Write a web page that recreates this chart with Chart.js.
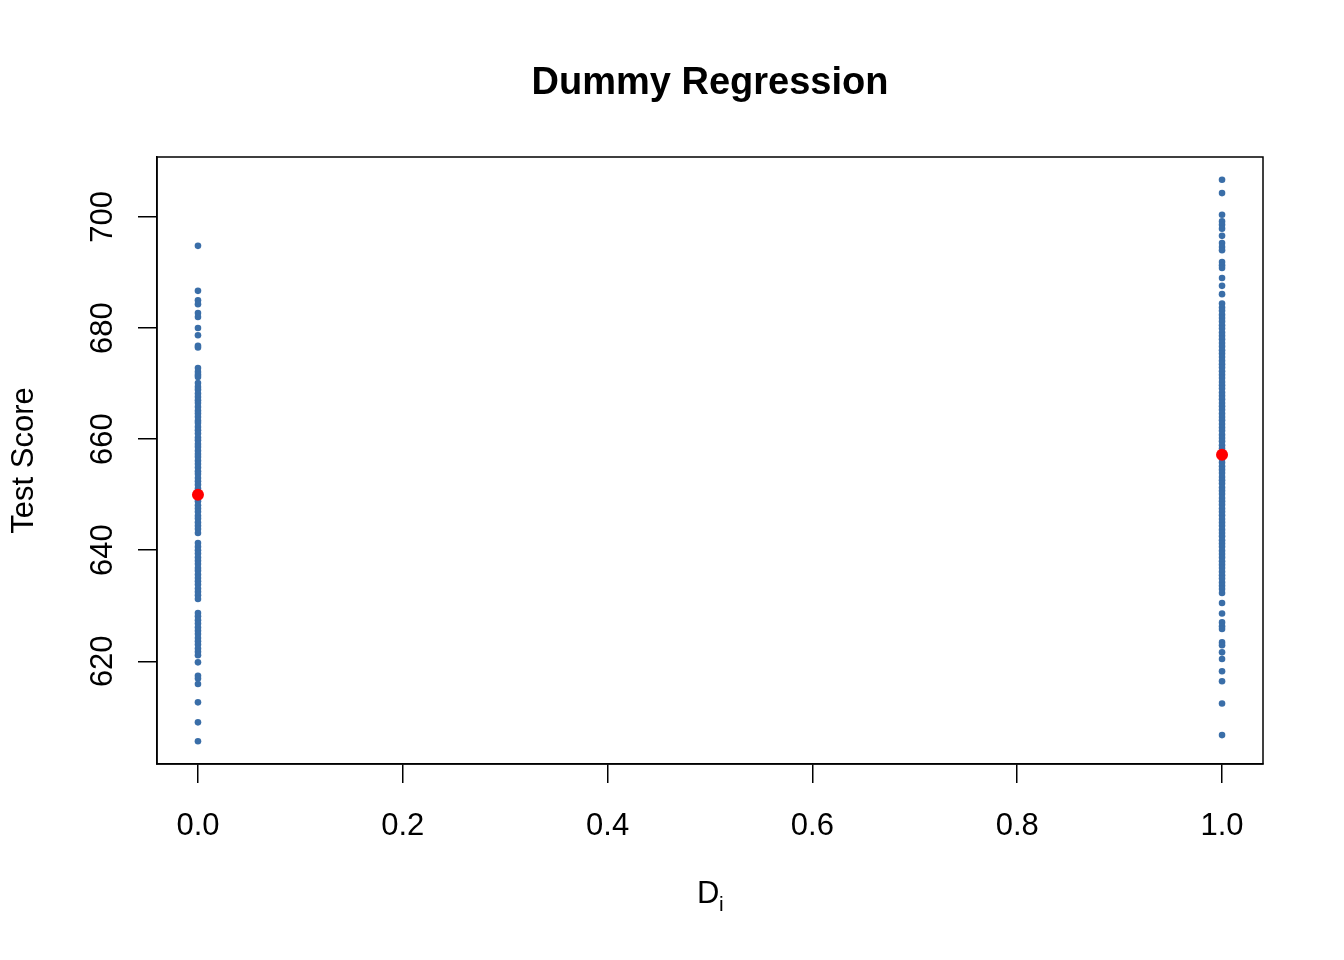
<!DOCTYPE html>
<html>
<head>
<meta charset="utf-8">
<script src="https://cdn.jsdelivr.net/npm/chart.js@4"></script>
<style>
  body { margin: 0; background: #fff; }
</style>
</head>
<body>
<canvas id="dummyChart" width="1344" height="960"></canvas>
<script>
// test scores for D = 0
const scoresD0 = [694.8, 686.7, 685.0, 684.3, 682.7, 682.0, 680.0, 678.7, 676.8, 676.5,
  672.8, 672.1, 671.6, 671.2, 670.1, 669.4, 668.9, 668.2, 667.6, 667.0, 666.5, 665.8,
  665.1, 664.6, 664.0, 663.3, 662.9, 662.2, 661.6, 661.0, 660.3, 659.8, 659.1, 658.6,
  657.9, 657.3, 656.8, 656.1, 655.5, 654.9, 654.2, 653.7, 653.0, 652.4, 651.8, 651.1,
  650.6, 650.0, 649.3, 648.8, 648.1, 647.5, 646.9, 646.2, 645.7, 645.0, 644.4, 643.8,
  643.1, 641.3, 640.6, 640.0, 639.4, 638.7, 638.1, 637.5, 636.8, 636.3, 635.6, 635.0,
  634.4, 633.8, 633.1, 632.5, 631.9, 631.2, 628.7, 628.1, 627.4, 626.8, 626.1, 625.5,
  624.9, 624.2, 623.6, 623.0, 622.3, 621.7, 621.1, 619.8, 617.4, 616.9, 615.9, 612.6,
  609.0, 605.6];

// test scores for D = 1 (right column)
const scoresD1 = [706.7, 704.3, 700.4, 699.2, 698.6, 697.9, 696.6, 695.3, 694.6, 694.0,
  691.9, 691.3, 690.8, 689.0, 687.6, 686.1, 684.4, 683.7, 683.1, 682.4, 681.8, 681.2,
  680.5, 679.9, 679.2, 678.6, 678.0, 677.3, 676.7, 676.0, 675.4, 674.8, 674.1, 673.5,
  672.9, 672.2, 671.6, 671.0, 670.3, 669.7, 669.1, 668.4, 667.8, 667.2, 666.5, 665.9,
  665.3, 664.6, 664.0, 663.4, 662.7, 662.1, 661.5, 660.8, 660.2, 659.6, 658.9, 658.3,
  657.7, 657.0, 656.4, 655.8, 655.1, 654.5, 653.9, 653.2, 652.6, 652.0, 651.3, 650.7,
  650.1, 649.4, 648.8, 648.2, 647.5, 646.9, 646.3, 645.6, 645.0, 644.4, 643.7, 643.1,
  642.5, 641.8, 641.2, 640.6, 639.9, 639.3, 638.7, 638.0, 637.4, 636.8, 636.1, 635.5,
  634.9, 634.2, 633.6, 633.0, 632.3, 630.5, 628.6, 627.0, 626.3, 625.8, 623.4, 622.9,
  621.6, 620.4, 618.2, 616.4, 612.4, 606.7];

const groupX = [0, 1];
const groupMeans = [649.99, 657.19];

const xTicks = [0, 0.2, 0.4, 0.6, 0.8, 1.0];
const yTicks = [620, 640, 660, 680, 700];

const FONT = "'Liberation Sans', Arial, Helvetica, sans-serif";

const points = scoresD0.map(v => ({ x: 0, y: v }))
  .concat(scoresD1.map(v => ({ x: 1, y: v })));
const means = groupX.map((x, i) => ({ x: x, y: groupMeans[i] }));

// R-style box, title, rotated y labels and subscript x title
const baseGraphics = {
  id: 'baseGraphics',
  afterDraw(chart) {
    const ctx = chart.ctx;
    const area = chart.chartArea;
    const xs = chart.scales.x;
    const ys = chart.scales.y;
    const cx = (area.left + area.right) / 2;
    ctx.save();
    ctx.strokeStyle = '#000';
    ctx.lineWidth = 1.5;
    ctx.strokeRect(area.left, area.top, area.right - area.left, area.bottom - area.top);

    ctx.fillStyle = '#000';
    ctx.textAlign = 'center';
    ctx.textBaseline = 'alphabetic';
    ctx.font = 'bold 38px ' + FONT;
    ctx.fillText('Dummy Regression', cx, 94);

    ctx.font = '31px ' + FONT;
    xTicks.forEach(t => {
      ctx.fillText(t.toFixed(1), xs.getPixelForValue(t), 835);
    });
    yTicks.forEach(t => {
      ctx.save();
      ctx.translate(112, ys.getPixelForValue(t));
      ctx.rotate(-Math.PI / 2);
      ctx.fillText(String(t), 0, 0);
      ctx.restore();
    });

    ctx.save();
    ctx.translate(33, (area.top + area.bottom) / 2);
    ctx.rotate(-Math.PI / 2);
    ctx.fillText('Test Score', 0, 0);
    ctx.restore();

    ctx.textAlign = 'left';
    ctx.fillText('D', cx - 13, 903);
    ctx.font = '21px ' + FONT;
    ctx.fillText('i', cx + 9, 911);
    ctx.restore();
  }
};

new Chart(document.getElementById('dummyChart').getContext('2d'), {
  type: 'scatter',
  data: {
    datasets: [
      {
        label: 'Group means',
        data: means,
        backgroundColor: '#ff0000',
        borderWidth: 0,
        pointRadius: 6
      },
      {
        label: 'Test scores',
        data: points,
        backgroundColor: '#3a6ea8',
        borderWidth: 0,
        pointRadius: 3.3
      }
    ]
  },
  options: {
    responsive: false,
    animation: false,
    layout: { padding: { top: 157, right: 81, bottom: 0, left: 0 } },
    plugins: {
      legend: { display: false },
      tooltip: { enabled: false },
      title: { display: false }
    },
    scales: {
      x: {
        type: 'linear',
        min: -0.04,
        max: 1.04,
        afterBuildTicks: s => { s.ticks = xTicks.map(v => ({ value: v })); },
        afterFit: s => { s.height = 196; },
        ticks: { display: false },
        grid: { drawOnChartArea: false, drawTicks: true, tickLength: 19, color: '#000', lineWidth: 1.5 },
        border: { display: true, color: '#000', width: 1.5 }
      },
      y: {
        type: 'linear',
        min: 601.5,
        max: 710.8,
        afterBuildTicks: s => { s.ticks = yTicks.map(v => ({ value: v })); },
        afterFit: s => { s.width = 157; },
        ticks: { display: false },
        grid: { drawOnChartArea: false, drawTicks: true, tickLength: 19, color: '#000', lineWidth: 1.5 },
        border: { display: true, color: '#000', width: 1.5 }
      }
    }
  },
  plugins: [baseGraphics]
});
</script>
</body>
</html>
